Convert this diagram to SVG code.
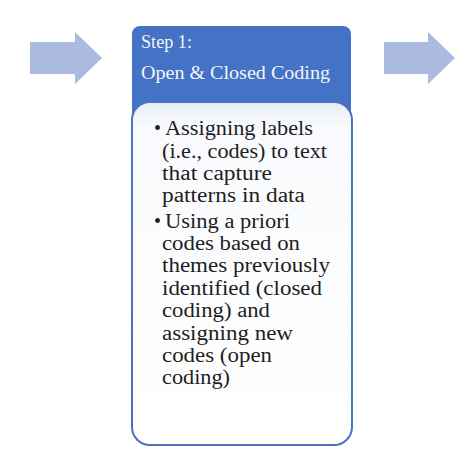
<svg xmlns="http://www.w3.org/2000/svg" width="474" height="474" viewBox="0 0 474 474">
<style>
.arrow{fill:#aabbdf}
.head{font-family:"Liberation Serif","Times New Roman",serif;font-size:19px;fill:#f4f6fb}
.body{font-family:"Liberation Serif","Times New Roman",serif;font-size:20px;fill:#1e1e1e}
</style>
<defs>
<linearGradient id="wg" x1="0" y1="0" x2="0" y2="1">
<stop offset="0" stop-color="#e6ecf7"/>
<stop offset="0.07" stop-color="#f9fafd"/>
<stop offset="1" stop-color="#ffffff"/>
</linearGradient>
</defs>
<rect width="474" height="474" fill="#ffffff"/>
<g id="arrow-left">
<polygon class="arrow" points="30,42 75,42 75,32 102,58 75,84 75,74 30,74"/>
</g>
<g id="arrow-right">
<polygon class="arrow" points="384,42 428,42 428,32 455,58 428,84 428,74 384,74"/>
</g>
<g id="step1">
<rect x="132" y="26" width="219" height="100" rx="8" fill="#4472c4"/>
<text class="head" x="141" y="48" textLength="51" lengthAdjust="spacingAndGlyphs">Step 1:</text>
<text class="head" x="141" y="79" textLength="189" lengthAdjust="spacingAndGlyphs">Open &amp; Closed Coding</text>
<rect x="132" y="102" width="220" height="343" rx="18" fill="url(#wg)" stroke="#4a74c2" stroke-width="2"/>
<g class="body">
<text x="154" y="135">•</text>
<text x="165" y="135" textLength="148" lengthAdjust="spacingAndGlyphs">Assigning labels</text>
<text x="162" y="157.5" textLength="165" lengthAdjust="spacingAndGlyphs">(i.e., codes) to text</text>
<text x="162" y="180" textLength="110" lengthAdjust="spacingAndGlyphs">that capture</text>
<text x="162" y="202" textLength="143" lengthAdjust="spacingAndGlyphs">patterns in data</text>
<text x="154" y="228">•</text>
<text x="165" y="228" textLength="125" lengthAdjust="spacingAndGlyphs">Using a priori</text>
<text x="162" y="250" textLength="138" lengthAdjust="spacingAndGlyphs">codes based on</text>
<text x="162" y="272" textLength="168" lengthAdjust="spacingAndGlyphs">themes previously</text>
<text x="162" y="294.5" textLength="160" lengthAdjust="spacingAndGlyphs">identified (closed</text>
<text x="162" y="317" textLength="108" lengthAdjust="spacingAndGlyphs">coding) and</text>
<text x="162" y="339.5" textLength="131" lengthAdjust="spacingAndGlyphs">assigning new</text>
<text x="162" y="362" textLength="110" lengthAdjust="spacingAndGlyphs">codes (open</text>
<text x="162" y="384" textLength="68" lengthAdjust="spacingAndGlyphs">coding)</text>
</g>
</g>
</svg>
